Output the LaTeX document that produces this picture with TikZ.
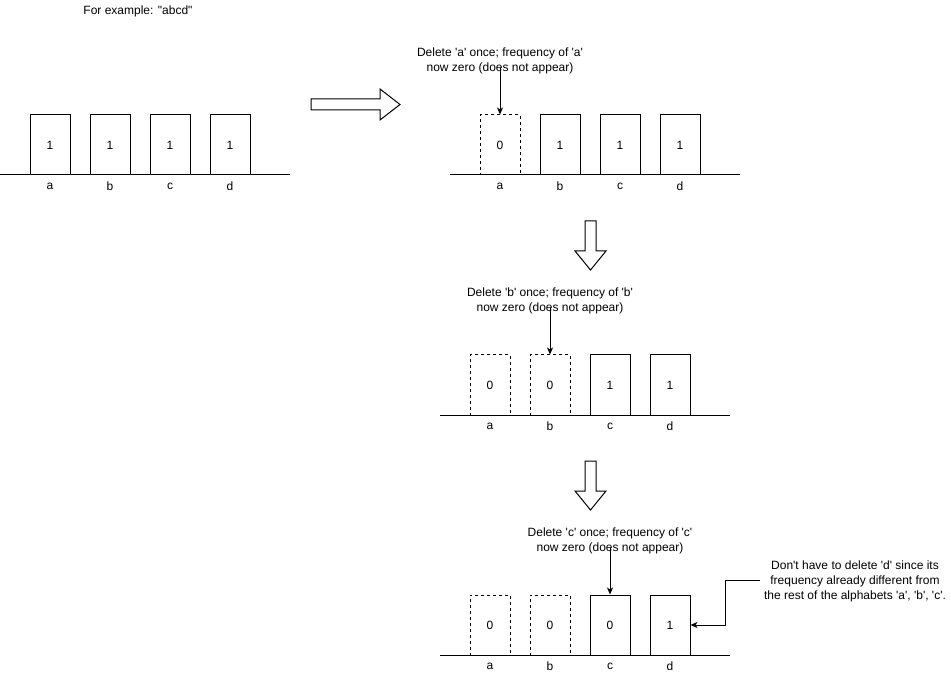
\documentclass[tikz,border=0pt]{standalone}
\usepackage{fontspec}
\setmainfont{Liberation Sans}[Ligatures=TeXOff]
\usetikzlibrary{arrows.meta}
\begin{document}
\begin{tikzpicture}[x=1pt,y=-1pt,
  every node/.style={font=\fontsize{12}{15}\selectfont, inner sep=0pt},
  bar/.style={draw, line width=1pt, minimum width=40pt, minimum height=60pt},
  gone/.style={bar, dash pattern=on 3pt off 3pt},
  note/.style={align=center},
  ptr/.style={line width=1pt, -{Stealth[length=7pt,width=6pt,inset=2pt]}},
  base/.style={line width=1pt},
  blockarrow/.style={draw, line width=1pt, fill=white, line join=miter}]
\useasboundingbox (0,0) rectangle (951,676);

% title
\node (title) at (138,11) {For example: "abcd"};

% ---- top-left group
\draw[base] (0,175) coordinate (l0) -- (290,175) coordinate (r0);
\node[bar] (a0) at (50,145) {1};
\node[bar] (b0) at (110,145) {1};
\node[bar] (c0) at (170,145) {1};
\node[bar] (d0) at (230,145) {1};
\node (la0) at (50,186) {a};
\node (lb0) at (110,186) {b};
\node (lc0) at (170,186) {c};
\node (ld0) at (230,186) {d};

% right block arrow
\draw[blockarrow] (311,99) -- (380,99) -- (380,89) -- (400,104.5) -- (380,120) -- (380,110) -- (311,110) -- cycle;

% ---- top-right group
\draw[base] (450,175) coordinate (l1) -- (740,175) coordinate (r1);
\node[gone] (a1) at (500,145) {0};
\node[bar] (b1) at (560,145) {1};
\node[bar] (c1) at (620,145) {1};
\node[bar] (d1) at (680,145) {1};
\node (la1) at (500,186) {a};
\node (lb1) at (560,186) {b};
\node (lc1) at (620,186) {c};
\node (ld1) at (680,186) {d};
\node[note] (n1) at (500,60.5) {Delete 'a' once; frequency of 'a'\\now zero (does not appear)};
\coordinate (s1) at (500,68);
\draw[ptr] (s1) -- (a1.north);

% down block arrow 1
\draw[blockarrow] (585,221) -- (596,221) -- (596,251) -- (606,251) -- (590.5,270) -- (575,251) -- (585,251) -- cycle;

% ---- middle group
\draw[base] (440,415) coordinate (l2) -- (730,415) coordinate (r2);
\node[gone] (a2) at (490,385) {0};
\node[gone] (b2) at (550,385) {0};
\node[bar] (c2) at (610,385) {1};
\node[bar] (d2) at (670,385) {1};
\node (la2) at (490,426) {a};
\node (lb2) at (550,426) {b};
\node (lc2) at (610,426) {c};
\node (ld2) at (670,426) {d};
\node[note] (n2) at (550,300.5) {Delete 'b' once; frequency of 'b'\\now zero (does not appear)};
\coordinate (s2) at (550,308);
\draw[ptr] (s2) -- (b2.north);

% down block arrow 2
\draw[blockarrow] (585,461) -- (596,461) -- (596,491) -- (606,491) -- (590.5,510) -- (575,491) -- (585,491) -- cycle;

% ---- bottom group
\draw[base] (440,655) coordinate (l3) -- (730,655) coordinate (r3);
\node[gone] (a3) at (490,625) {0};
\node[gone] (b3) at (550,625) {0};
\node[bar] (c3) at (610,625) {0};
\node[bar] (d3) at (670,625) {1};
\node (la3) at (490,666) {a};
\node (lb3) at (550,666) {b};
\node (lc3) at (610,666) {c};
\node (ld3) at (670,666) {d};
\node[note] (n3) at (610,540.5) {Delete 'c' once; frequency of 'c'\\now zero (does not appear)};
\coordinate (s3) at (610,548);
\draw[ptr] (s3) -- (c3.north);

% side note
\node[note] (n4) at (855,581) {Don't have to delete 'd' since its\\frequency already different from\\the rest of the alphabets 'a', 'b', 'c'.};
\coordinate (s4) at (760,580);
\draw[ptr] (s4) -- (725,580) -- (725,625) -- (d3.east);
\end{tikzpicture}
\end{document}
